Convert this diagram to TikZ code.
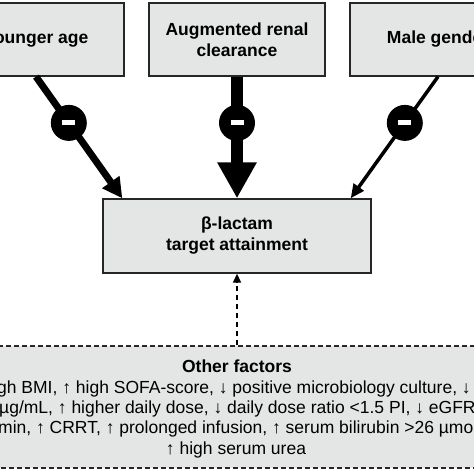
\documentclass[tikz,border=0pt]{standalone}
\usepackage{fontspec}
\setmainfont{Liberation Sans}
\usepackage{tikz}
\usetikzlibrary{positioning,arrows.meta}

\definecolor{boxgray}{RGB}{228,230,230}

\begin{document}
\begin{tikzpicture}[
    x=1pt, y=-1pt,
    every node/.style={font=\fontsize{17.5}{21}\selectfont},
    factor/.style={draw=black!85, line width=1.3pt, fill=boxgray, align=center,
                   inner sep=0pt, font=\fontsize{17.5}{21}\selectfont\bfseries},
    minus/.style={circle, fill=black, minimum size=36pt, inner sep=0pt},
    txt/.style={inner sep=0pt, font=\fontsize{17.5}{20}\selectfont}
]
\useasboundingbox (0,0) rectangle (474,474);

% ---------------- Factors ----------------
\node[factor, minimum width=176pt, minimum height=73pt] (ya) at (36,39.5) {Younger age};
\node[factor, minimum width=176pt, minimum height=73pt] (arc) at (237,39.5) {Augmented renal\\clearance};
\node[factor, minimum width=176pt, minimum height=73pt] (mg) at (438,39.5) {Male gender};

% ---------------- Target ----------------
\node[factor, minimum width=268pt, minimum height=74pt] (ta) at (237,236) {β-lactam\\target attainment};

% ---------------- Other factors ----------------
\node[draw=black!85, line width=1.2pt, dash pattern=on 5pt off 3pt, fill=boxgray,
      minimum width=520pt, minimum height=122pt, inner sep=0pt] (of) at (237,407) {};
\node[txt, anchor=base, font=\fontsize{17.5}{20}\selectfont\bfseries] (ofh) at (237,372) {Other factors};
\node[txt, anchor=base east] (l1) at (471,393) {↑ high BMI, ↑ high SOFA-score, ↓ positive microbiology culture, ↓};
\node[txt, anchor=base west] (l2) at (-1,413) {µg/mL, ↑ higher daily dose, ↓ daily dose ratio <1.5 PI, ↓ eGFR};
\node[txt, anchor=base west] (l3) at (-2,433) {min, ↑ CRRT, ↑ prolonged infusion, ↑ serum bilirubin >26 µmol/L};
\node[txt, anchor=base] (l4) at (236,454) {↑ high serum urea};

% ---------------- Effects ----------------
\draw[line width=7pt, -{Triangle[length=20pt,width=20pt]}]
    (ya.south) -- node[minus, pos=0.38] (m1) {\color{white}\rule[-2.5pt]{13pt}{5pt}} ([xshift=20pt]ta.north west);
\draw[line width=12pt, -{Triangle[length=36pt,width=37pt]}]
    (arc.south) -- node[minus, pos=0.38] (m2) {\color{white}\rule[-2.5pt]{13pt}{5pt}} (ta.north);
\draw[line width=3.5pt, -{Triangle[length=14pt,width=12pt]}]
    (mg.south) -- node[minus, pos=0.38] (m3) {\color{white}\rule[-2.5pt]{13pt}{5pt}} ([xshift=-21pt]ta.north east);

% Other factors
\draw[line width=1.5pt, dash pattern=on 5pt off 4pt, -{Triangle[length=9pt,width=8pt]}]
    (of.north) -- (ta.south);

\end{tikzpicture}
\end{document}
